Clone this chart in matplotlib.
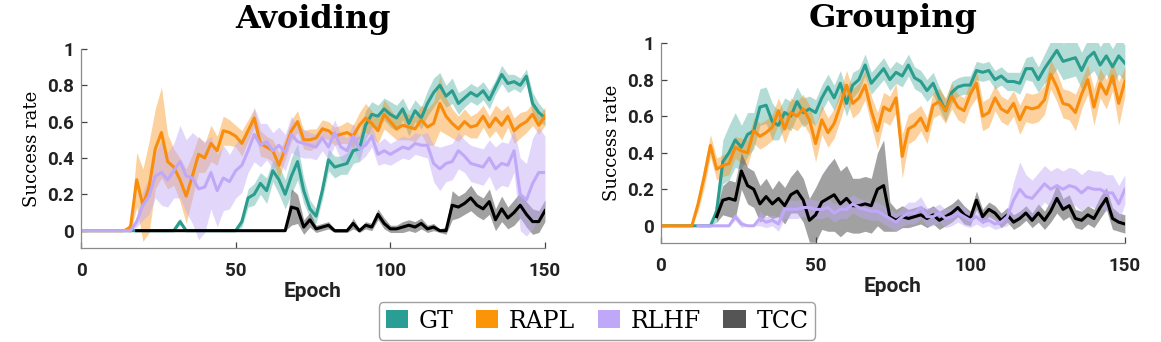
import numpy as np
import matplotlib.pyplot as plt
from matplotlib.patches import Patch

nan = np.nan
epochs = np.arange(0, 151, 2)

methods = ['GT', 'RAPL', 'RLHF', 'TCC']

# ---------------- Avoiding ----------------
avoid_gt = [0, 0, 0, 0, 0, 0, 0, 0, 0, 0,
            0, 0, 0, 0, 0, 0, 0.05, 0, 0, 0,
            0, 0, 0, 0, 0, 0, 0.05, 0.18, 0.2, 0.26,
            0.22, 0.33, 0.28, 0.2, 0.3, 0.38, 0.22, 0.12, 0.08, 0.22,
            0.39, 0.35, 0.36, 0.37, 0.44, 0.45, 0.58, 0.64, 0.63, 0.67,
            0.64, 0.62, 0.67, 0.59, 0.66, 0.62, 0.7, 0.76, 0.8, 0.74,
            0.77, 0.7, 0.73, 0.76, 0.74, 0.77, 0.72, 0.79, 0.86, 0.81,
            0.82, 0.8, 0.85, 0.7, 0.65, 0.62]
avoid_gt_sd = [0, 0, 0, 0, 0, 0, 0, 0, 0, 0,
               0, 0, 0, 0, 0, 0, 0.02, 0, 0, 0,
               0, 0, 0, 0, 0, 0, 0.03, 0.05, 0.06, 0.06,
               0.07, 0.06, 0.08, 0.08, 0.1, 0.1, 0.07, 0.05, 0.04, 0.05,
               0.06, 0.06, 0.05, 0.06, 0.07, 0.07, 0.08, 0.07, 0.06, 0.06,
               0.07, 0.07, 0.06, 0.07, 0.06, 0.06, 0.07, 0.08, 0.07, 0.06,
               0.07, 0.06, 0.05, 0.05, 0.05, 0.05, 0.05, 0.04, 0.05, 0.05,
               0.04, 0.04, 0.04, 0.06, 0.05, 0.04]

avoid_rapl = [0, 0, 0, 0, 0, 0, 0, 0, 0.02, 0.28,
              0.14, 0.24, 0.45, 0.54, 0.38, 0.35, 0.28, 0.19, 0.3, 0.42,
              0.4, 0.48, 0.44, 0.55, 0.54, 0.52, 0.48, 0.55, 0.62, 0.48,
              0.46, 0.44, 0.36, 0.45, 0.55, 0.6, 0.5, 0.5, 0.51, 0.56,
              0.55, 0.52, 0.53, 0.54, 0.52, 0.58, 0.62, 0.59, 0.55, 0.64,
              0.6, 0.56, 0.58, 0.57, 0.56, 0.61, 0.57, 0.59, 0.7, 0.63,
              0.59, 0.56, 0.6, 0.57, 0.58, 0.63, 0.57, 0.62, 0.58, 0.63,
              0.55, 0.58, 0.6, 0.64, 0.58, 0.63]
avoid_rapl_sd = [0, 0, 0, 0, 0, 0, 0, 0, 0.03, 0.15,
                 0.2, 0.25, 0.22, 0.25, 0.15, 0.1, 0.12, 0.15, 0.12, 0.1,
                 0.08, 0.1, 0.08, 0.08, 0.07, 0.06, 0.07, 0.06, 0.05, 0.07,
                 0.06, 0.06, 0.07, 0.06, 0.06, 0.06, 0.05, 0.06, 0.05, 0.05,
                 0.05, 0.05, 0.05, 0.06, 0.06, 0.07, 0.08, 0.07, 0.07, 0.08,
                 0.07, 0.06, 0.08, 0.07, 0.07, 0.08, 0.1, 0.12, 0.15, 0.1,
                 0.08, 0.07, 0.07, 0.06, 0.07, 0.06, 0.06, 0.07, 0.08, 0.06,
                 0.07, 0.07, 0.06, 0.06, 0.05, 0.05]

avoid_rlhf = [0, 0, 0, 0, 0, 0, 0, 0, 0, 0.05,
              0.14, 0.19, 0.3, 0.32, 0.28, 0.33, 0.38, 0.3, 0.29, 0.23,
              0.24, 0.32, 0.22, 0.29, 0.27, 0.33, 0.36, 0.44, 0.53, 0.47,
              0.49, 0.44, 0.47, 0.43, 0.53, 0.49, 0.48, 0.47, 0.46, 0.51,
              0.46, 0.54, 0.46, 0.44, 0.52, 0.45, 0.47, 0.52, 0.42, 0.44,
              0.42, 0.44, 0.46, 0.45, 0.48, 0.47, 0.47, 0.37, 0.34, 0.37,
              0.38, 0.44, 0.41, 0.37, 0.36, 0.35, 0.4, 0.34, 0.37, 0.36,
              0.44, 0.2, 0.17, 0.26, 0.32, 0.32]
avoid_rlhf_sd = [0, 0, 0, 0, 0, 0, 0, 0, 0, 0.03,
                 0.08, 0.1, 0.12, 0.18, 0.15, 0.15, 0.2, 0.2, 0.25, 0.28,
                 0.25, 0.2, 0.2, 0.18, 0.15, 0.15, 0.15, 0.12, 0.15, 0.12,
                 0.1, 0.1, 0.1, 0.1, 0.1, 0.08, 0.08, 0.07, 0.07, 0.07,
                 0.07, 0.07, 0.07, 0.07, 0.07, 0.07, 0.06, 0.06, 0.06, 0.07,
                 0.06, 0.06, 0.06, 0.06, 0.06, 0.06, 0.07, 0.1, 0.12, 0.1,
                 0.1, 0.1, 0.09, 0.1, 0.1, 0.1, 0.1, 0.12, 0.12, 0.12,
                 0.12, 0.2, 0.2, 0.25, 0.25, 0.2]

avoid_tcc = [nan, nan, nan, nan, nan, nan, nan, nan, nan, 0,
             0, 0, 0, 0, 0, 0, 0, 0, 0, 0,
             0, 0, 0, 0, 0, 0, 0, 0, 0, 0,
             0, 0, 0, 0, 0.13, 0.12, 0.02, 0.06, 0.01, 0.02,
             0.03, 0, 0, 0, 0.04, 0, 0.03, 0.02, 0.09, 0.04,
             0.01, 0.01, 0.02, 0.03, 0.02, 0.04, 0.01, 0.02, 0, 0,
             0.14, 0.13, 0.15, 0.18, 0.14, 0.12, 0.16, 0.06, 0.12, 0.07,
             0.1, 0.14, 0.09, 0.05, 0.05, 0.11]
avoid_tcc_sd = [0, 0, 0, 0, 0, 0, 0, 0, 0, 0,
                0, 0, 0, 0, 0, 0, 0, 0, 0, 0,
                0, 0, 0, 0, 0, 0, 0, 0, 0, 0,
                0, 0, 0, 0, 0.1, 0.08, 0.04, 0.04, 0.02, 0.02,
                0.02, 0.01, 0.01, 0.01, 0.03, 0.01, 0.02, 0.02, 0.03, 0.03,
                0.02, 0.02, 0.03, 0.03, 0.03, 0.03, 0.02, 0.02, 0.01, 0.02,
                0.08, 0.06, 0.06, 0.07, 0.06, 0.06, 0.07, 0.06, 0.07, 0.06,
                0.07, 0.07, 0.07, 0.07, 0.06, 0.06]

# ---------------- Grouping ----------------
group_gt = [0, 0, 0, 0, 0, 0, 0, 0, 0, 0.08,
            0.35, 0.4, 0.47, 0.43, 0.5, 0.52, 0.65, 0.66, 0.57, 0.55,
            0.62, 0.6, 0.68, 0.62, 0.64, 0.62, 0.7, 0.76, 0.7, 0.78,
            0.67, 0.77, 0.8, 0.88, 0.78, 0.82, 0.86, 0.8, 0.84, 0.82,
            0.88, 0.81, 0.79, 0.74, 0.78, 0.7, 0.63, 0.73, 0.76, 0.77,
            0.77, 0.85, 0.84, 0.85, 0.8, 0.82, 0.79, 0.79, 0.78, 0.86,
            0.86, 0.8, 0.86, 0.91, 0.96, 0.9, 0.91, 0.92, 0.85, 0.92,
            0.95, 0.88, 0.93, 0.87, 0.93, 0.89]
group_gt_sd = [0, 0, 0, 0, 0, 0, 0, 0, 0, 0.06,
               0.12, 0.15, 0.15, 0.12, 0.12, 0.1, 0.1, 0.1, 0.1, 0.08,
               0.08, 0.08, 0.08, 0.08, 0.07, 0.07, 0.07, 0.07, 0.07, 0.07,
               0.07, 0.07, 0.06, 0.06, 0.06, 0.06, 0.06, 0.06, 0.06, 0.06,
               0.06, 0.06, 0.06, 0.06, 0.06, 0.06, 0.06, 0.06, 0.05, 0.05,
               0.05, 0.05, 0.05, 0.05, 0.05, 0.05, 0.05, 0.05, 0.06, 0.06,
               0.07, 0.07, 0.08, 0.1, 0.1, 0.1, 0.1, 0.1, 0.1, 0.1,
               0.1, 0.1, 0.1, 0.1, 0.1, 0.1]

group_rapl = [0, 0, 0, 0, 0, 0, 0.12, 0.27, 0.44, 0.31,
              0.33, 0.34, 0.43, 0.41, 0.4, 0.52, 0.49, 0.51, 0.54, 0.63,
              0.53, 0.62, 0.6, 0.64, 0.58, 0.45, 0.58, 0.51, 0.56, 0.66,
              0.77, 0.67, 0.7, 0.77, 0.63, 0.52, 0.65, 0.63, 0.7, 0.38,
              0.53, 0.55, 0.59, 0.52, 0.66, 0.68, 0.63, 0.71, 0.65, 0.63,
              0.72, 0.78, 0.6, 0.62, 0.7, 0.64, 0.62, 0.67, 0.58, 0.65,
              0.64, 0.65, 0.69, 0.83, 0.76, 0.67, 0.66, 0.62, 0.72, 0.8,
              0.65, 0.78, 0.72, 0.82, 0.67, 0.79]
group_rapl_sd = [0, 0, 0, 0, 0, 0, 0.04, 0.06, 0.06, 0.06,
                 0.06, 0.06, 0.06, 0.07, 0.07, 0.07, 0.07, 0.07, 0.07, 0.07,
                 0.08, 0.08, 0.08, 0.08, 0.08, 0.1, 0.08, 0.08, 0.08, 0.08,
                 0.08, 0.08, 0.08, 0.08, 0.08, 0.1, 0.08, 0.08, 0.08, 0.12,
                 0.08, 0.08, 0.07, 0.07, 0.07, 0.07, 0.07, 0.07, 0.07, 0.07,
                 0.07, 0.08, 0.08, 0.08, 0.07, 0.07, 0.07, 0.07, 0.08, 0.08,
                 0.08, 0.08, 0.08, 0.08, 0.08, 0.08, 0.08, 0.1, 0.08, 0.08,
                 0.1, 0.08, 0.08, 0.08, 0.12, 0.08]

group_rlhf = [nan, nan, nan, nan, nan, nan, 0, 0, 0, 0,
              0, 0, 0.05, 0.01, 0, 0, 0.04, 0.02, 0.03, 0.01,
              0.09, 0.09, 0.09, 0.1, 0.1, 0.09, 0.09, 0.1, 0.07, 0.09,
              0.09, 0.12, 0.1, 0.09, 0.08, 0.08, 0.06, 0.04, 0.02, 0.05,
              0.07, 0.07, 0.1, 0.05, 0.05, 0.07, 0.04, 0.05, 0.07, 0.05,
              0.03, 0.05, 0.02, 0.03, 0.01, 0.02, 0.05, 0.14, 0.2, 0.16,
              0.15, 0.19, 0.23, 0.2, 0.22, 0.2, 0.22, 0.21, 0.18, 0.21,
              0.2, 0.2, 0.18, 0.18, 0.12, 0.2]
group_rlhf_sd = [0, 0, 0, 0, 0, 0, 0, 0, 0, 0,
                 0, 0, 0.02, 0.02, 0, 0, 0.04, 0.03, 0.03, 0.04,
                 0.05, 0.05, 0.05, 0.05, 0.05, 0.05, 0.05, 0.05, 0.05, 0.05,
                 0.05, 0.05, 0.05, 0.05, 0.05, 0.05, 0.05, 0.05, 0.05, 0.05,
                 0.06, 0.06, 0.06, 0.05, 0.05, 0.05, 0.05, 0.05, 0.05, 0.05,
                 0.04, 0.04, 0.03, 0.03, 0.03, 0.03, 0.05, 0.1, 0.15, 0.12,
                 0.1, 0.1, 0.1, 0.1, 0.1, 0.1, 0.1, 0.1, 0.1, 0.1,
                 0.1, 0.1, 0.1, 0.1, 0.1, 0.08]

group_tcc = [nan, nan, nan, nan, nan, nan, nan, nan, nan, 0.05,
             0.14, 0.15, 0.14, 0.3, 0.22, 0.2, 0.12, 0.16, 0.12, 0.15,
             0.11, 0.17, 0.19, 0.14, 0.03, 0.06, 0.13, 0.15, 0.17, 0.12,
             0.15, 0.11, 0.11, 0.12, 0.11, 0.2, 0.22, 0.05, 0.03, 0.05,
             0.04, 0.05, 0.06, 0.04, 0.06, 0.03, 0.05, 0.07, 0.1, 0.06,
             0.04, 0.14, 0.05, 0.09, 0.07, 0.03, 0.06, 0.02, 0.04, 0.07,
             0.03, 0.07, 0.03, 0.08, 0.15, 0.09, 0.11, 0.04, 0.03, 0.06,
             0.04, 0.1, 0.15, 0.04, 0.02, 0.01]
group_tcc_sd = [0, 0, 0, 0, 0, 0, 0, 0, 0, 0.03,
                0.08, 0.1, 0.1, 0.1, 0.1, 0.1, 0.1, 0.1, 0.08, 0.1,
                0.1, 0.1, 0.12, 0.12, 0.12, 0.15, 0.15, 0.18, 0.2, 0.18,
                0.18, 0.15, 0.15, 0.15, 0.15, 0.2, 0.25, 0.08, 0.06, 0.06,
                0.05, 0.05, 0.05, 0.05, 0.05, 0.05, 0.05, 0.05, 0.05, 0.05,
                0.04, 0.05, 0.04, 0.04, 0.04, 0.04, 0.04, 0.04, 0.04, 0.04,
                0.04, 0.05, 0.05, 0.06, 0.08, 0.06, 0.06, 0.05, 0.05, 0.05,
                0.05, 0.06, 0.06, 0.06, 0.05, 0.05]

line_colors = {'GT': '#2a9d8f', 'RAPL': '#f88c0c', 'RLHF': '#c0a8f8', 'TCC': '#000000'}
band_colors = {'GT': '#2a9d8f', 'RAPL': '#f88c0c', 'RLHF': '#c0a8f8', 'TCC': '#555555'}
band_alpha = {'GT': 0.35, 'RAPL': 0.4, 'RLHF': 0.45, 'TCC': 0.55}
legend_colors = ['#2a9d94', '#fb9407', '#bfa8f8', '#555555']

panels = [
    ('Avoiding', [0.0698, 0.275, 0.3996, 0.582], 28,
     {'GT': (avoid_gt, avoid_gt_sd), 'RAPL': (avoid_rapl, avoid_rapl_sd),
      'RLHF': (avoid_rlhf, avoid_rlhf_sd), 'TCC': (avoid_tcc, avoid_tcc_sd)}),
    ('Grouping', [0.5693, 0.289, 0.3996, 0.585], 27,
     {'GT': (group_gt, group_gt_sd), 'RAPL': (group_rapl, group_rapl_sd),
      'RLHF': (group_rlhf, group_rlhf_sd), 'TCC': (group_tcc, group_tcc_sd)}),
]
draw_order = ['GT', 'RAPL', 'TCC', 'RLHF']
sans = 'Roboto'

fig = plt.figure(figsize=(11.61, 3.42), dpi=100)

for title, rect, title_base, data in panels:
    ax = fig.add_axes(rect)
    for m in draw_order:
        mean = np.array(data[m][0], dtype=float)
        sd = np.array(data[m][1], dtype=float)
        ok = ~np.isnan(mean)
        ax.fill_between(epochs[ok], mean[ok] - sd[ok], mean[ok] + sd[ok],
                        color=band_colors[m], alpha=band_alpha[m], lw=0)
        ax.plot(epochs, mean, color=line_colors[m], lw=2.2)

    ax.set_xlim(0, 150)
    ax.set_ylim(-0.095, 1)
    ax.set_xticks([0, 50, 100, 150])
    ax.set_yticks([0, 0.2, 0.4, 0.6, 0.8, 1])
    ax.set_yticklabels(['0', '0.2', '0.4', '0.6', '0.8', '1'])
    for s in ['top', 'right']:
        ax.spines[s].set_visible(False)
    for s in ['left', 'bottom']:
        ax.spines[s].set_color('#8a8a8a')
        ax.spines[s].set_linewidth(0.9)
    ax.tick_params(direction='in', length=4, width=0.9, color='#444444')
    ax.tick_params(axis='x', pad=10)
    ax.tick_params(axis='y', pad=5)
    for lab in ax.get_xticklabels() + ax.get_yticklabels():
        lab.set_fontfamily(sans)
        lab.set_fontweight('bold')
        lab.set_fontsize(13.5)
        lab.set_color('#222222')

    ax.set_ylabel('Success rate', family='DejaVu Serif', fontsize=13)
    ax.yaxis.set_label_coords(-0.086, 0.5)
    ax.set_xlabel('Epoch', family=sans, fontweight='bold', fontsize=15,
                  color='#222222')
    ax.xaxis.set_label_coords(0.5, -0.17)

    h = rect[3] * 342
    top_px = (1 - rect[1] - rect[3]) * 342
    ax.text(0.5, 1 + (top_px - title_base) / h, title, transform=ax.transAxes,
            ha='center', va='baseline', family='DejaVu Serif',
            fontweight='bold', fontsize=23)

handles = [Patch(facecolor=c, edgecolor='none', label=m)
           for m, c in zip(methods, legend_colors)]
fig.legend(handles=handles, loc='center', bbox_to_anchor=(597 / 1161, 1 - 321 / 342),
           ncol=4, frameon=True, fancybox=True, edgecolor='#888888',
           prop={'family': 'DejaVu Serif', 'size': 17},
           handlelength=0.95, handleheight=0.78, columnspacing=0.95,
           handletextpad=0.45, borderpad=0.3)

fig.savefig('out.png', dpi=100)
